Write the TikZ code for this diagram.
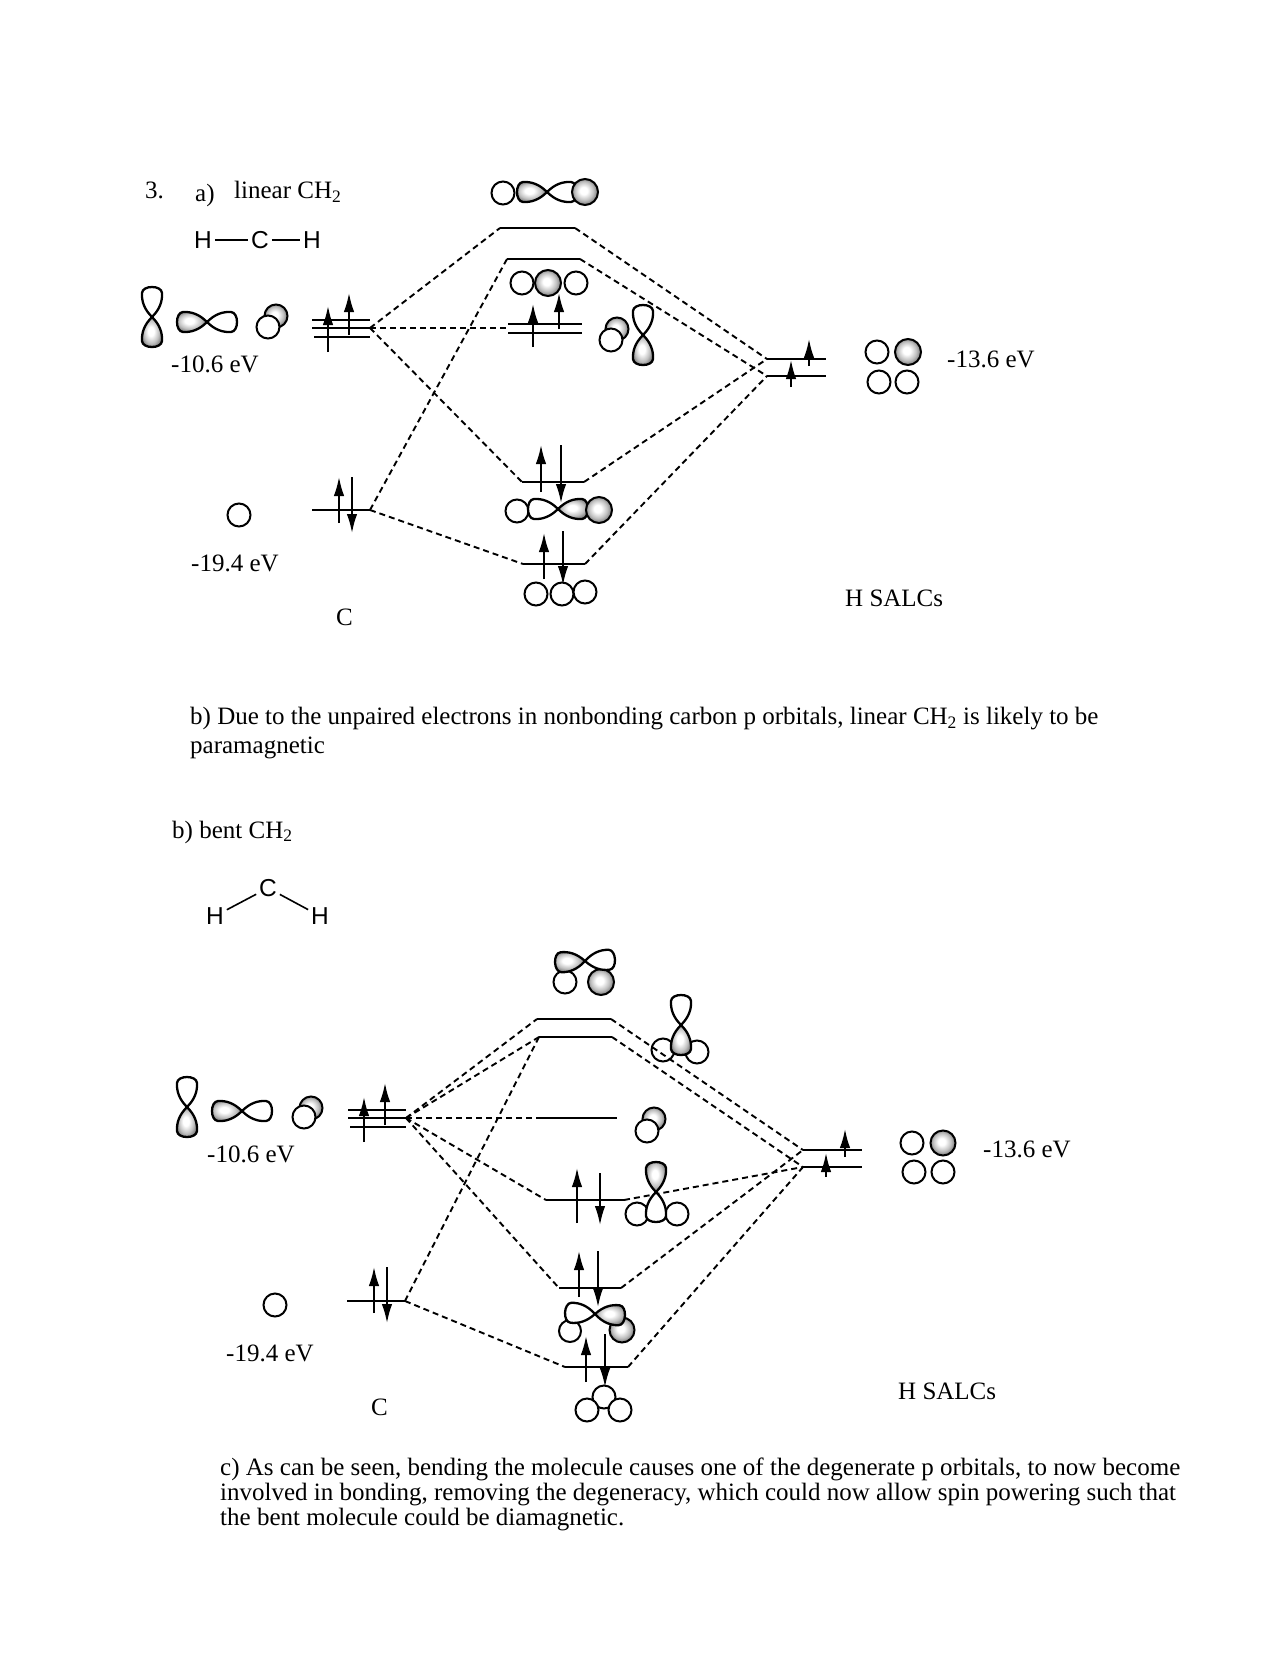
\documentclass[tikz,border=0pt]{standalone}
\usepackage{fontspec}
\setmainfont{Liberation Serif}
\newfontfamily\chemfont{Liberation Sans}
\usepackage{tikz}
\usetikzlibrary{arrows.meta}

\pgfdeclareradialshading{orbshade}{\pgfpoint{-3bp}{3bp}}{color(0bp)=(white); color(7bp)=(white); color(18bp)=(black!25); color(28bp)=(black!60); color(38bp)=(black!85); color(50bp)=(black)}

% one energy level: name, left x, right x, y
\newcommand{\level}[4]{
	\coordinate (#1l) at (#2,#4);
	\coordinate (#1r) at (#3,#4);
	\draw[levelline] (#1l) -- (#1r);
}
% one electron: name, x, tail y, tip y
\newcommand{\spin}[4]{
	\coordinate (#1t) at (#2,#3);
	\coordinate (#1h) at (#2,#4);
	\draw[->,spinline] (#1t) -- (#1h);
}

\tikzset{
	levelline/.style={line width=2.1pt},
	spinline/.style={line width=1.9pt},
	corr/.style={line width=1.9pt,dash pattern=on 6pt off 4pt},
	bond/.style={line width=1.6pt},
	txt/.style={anchor=base west,inner sep=0pt,font=\fontsize{25}{25}\selectfont},
	chem/.style={inner sep=0pt,outer sep=3pt,font=\chemfont\fontsize{24.5}{25}\selectfont},
	sorb/.style={draw,shape=circle,fill=white,line width=2pt,inner sep=0pt,minimum size=23pt},
	sorbf/.style={draw,shape=circle,line width=2pt,inner sep=0pt,minimum size=26pt,shade,shading=orbshade},
	lobes/.pic={
		\draw[line width=2.3pt,fill=white] (0,0) .. controls (-8,8) and (-16,10.5) .. (-24,10) .. controls (-32,9.5) and (-32,-9.5) .. (-24,-10) .. controls (-16,-10.5) and (-8,-8) .. (0,0);
		\draw[line width=2.3pt,shade,shading=orbshade] (0,0) .. controls (8,8) and (16,10.5) .. (24,10) .. controls (32,9.5) and (32,-9.5) .. (24,-10) .. controls (16,-10.5) and (8,-8) .. (0,0);
	}
}

\begin{document}
\begin{tikzpicture}[x=1pt,y=-1pt,>/.tip={Latex[length=19pt,width=10.5pt]}]
	\useasboundingbox (0,0) rectangle (1280,1656);

	\draw (145,198) node (num) [txt] {3.};
	\draw (195,201) node (parta) [txt] {a)};
	\draw (234,199) node (titlea) [txt] {linear CH\textsubscript{2}};
	\draw (203,240) node (ah1) [chem] {H};
	\draw (260,240) node (ac) [chem] {C};
	\draw (312,240) node (ah2) [chem] {H};
	\draw[bond] (ah1) -- (ac);
	\draw[bond] (ac) -- (ah2);

	% linear: carbon side
	\path (152,317) pic (ap1) [rotate=-90] {lobes};
	\path (207,322) pic (ap2) [rotate=180] {lobes};
	\draw (276,316) node (ap3f) [sorbf,minimum size=23pt] {};
	\draw (268,327) node (ap3) [sorb] {};
	\draw (171,372) node (ae1) [txt] {-10.6 eV};
	\level{acp1}{312}{370}{320}
	\level{acp2}{312}{370}{328}
	\level{acp3}{314}{370}{337}
	\spin{ae2}{328}{352}{306}
	\spin{ae3}{349}{335}{293}
	\draw (239,515) node (as) [sorb] {};
	\draw (191,571) node (ae4) [txt] {-19.4 eV};
	\level{acs}{312}{370}{510}
	\spin{ae5}{339}{523}{477}
	\spin{ae6}{352}{477}{533}
	\draw (336,625) node (ac2) [txt] {C};

	% linear: molecular levels
	\draw (503,193) node (at1) [sorb] {};
	\path (547,192) pic (at2) [rotate=180] {lobes};
	\draw (585,192) node (at3) [sorbf] {};
	\level{am1}{500}{575}{228}
	\level{am2}{507}{580}{259}
	\draw (522,283) node (an1) [sorb] {};
	\draw (548,283) node (an2) [sorbf] {};
	\draw (576,283) node (an3) [sorb] {};
	\level{am3}{508}{582}{324}
	\level{am4}{508}{582}{333}
	\coordinate (am34) at (508,328);
	\spin{ae7}{533}{347}{304}
	\spin{ae8}{559}{329}{293}
	\draw (617,329) node (ap4f) [sorbf,minimum size=23pt] {};
	\draw (611,340) node (ap4) [sorb] {};
	\path (643,335) pic (ap5) [rotate=-90] {lobes};
	\level{am5}{522}{584}{482}
	\draw (517,511) node (ab1) [sorb] {};
	\path (558,509) pic (ab2) {lobes};
	\draw (599,510) node (ab3) [sorbf] {};
	\spin{ae9}{541}{492}{445}
	\spin{ae10}{561}{445}{503}
	\level{am6}{523}{585}{564}
	\spin{ae11}{544}{579}{533}
	\spin{ae12}{563}{531}{585}
	\draw (536,594) node (aa1) [sorb] {};
	\draw (562,594) node (aa2) [sorb] {};
	\draw (585,592) node (aa3) [sorb] {};

	% linear: hydrogen side
	\level{ah3}{767}{826}{359}
	\level{ah4}{767}{826}{376}
	\spin{ae13}{809}{366}{339}
	\spin{ae14}{791}{387}{360}
	\draw (877,352) node (ag1) [sorb] {};
	\draw (908,352) node (ag2) [sorbf] {};
	\draw (879,382) node (ag3) [sorb] {};
	\draw (907,382) node (ag4) [sorb] {};
	\draw (947,367) node (ae15) [txt] {-13.6 eV};
	\draw (845,606) node (asalc) [txt] {H SALCs};

	\draw[corr] (acp2r) -- (am1l);
	\draw[corr] (acp2r) -- (am34);
	\draw[corr] (acp2r) -- (am5l);
	\draw[corr] (acsr) -- (am2l);
	\draw[corr] (acsr) -- (am6l);
	\draw[corr] (am1r) -- (ah3l);
	\draw[corr] (am2r) -- (ah4l);
	\draw[corr] (am5r) -- (ah3l);
	\draw[corr] (am6r) -- (ah4l);

	\draw (190,707) node (notea) [txt,anchor=north west,align=left,font=\fontsize{25}{28.5}\selectfont] {b) Due to the unpaired electrons in nonbonding carbon p orbitals, linear CH\textsubscript{2} is likely to be\\paramagnetic};
	\draw (172,838) node (titleb) [txt] {b) bent CH\textsubscript{2}};

	\draw (215,916) node (bh1) [chem] {H};
	\draw (268,888) node (bc) [chem] {C};
	\draw (320,916) node (bh2) [chem] {H};
	\draw[bond] (bh1) -- (bc);
	\draw[bond] (bc) -- (bh2);

	% bent: carbon side
	\path (187,1107) pic (bp1) [rotate=-90] {lobes};
	\path (242,1111) pic (bp2) [rotate=180] {lobes};
	\draw (311,1108) node (bp3f) [sorbf,minimum size=23pt] {};
	\draw (304,1117) node (bp3) [sorb] {};
	\draw (207,1162) node (be1) [txt] {-10.6 eV};
	\level{bcp1}{348}{406}{1110}
	\level{bcp2}{348}{406}{1118}
	\level{bcp3}{350}{406}{1127}
	\spin{be2}{364}{1142}{1097}
	\spin{be3}{385}{1125}{1083}
	\draw (275,1305) node (bs) [sorb] {};
	\draw (226,1361) node (be4) [txt] {-19.4 eV};
	\level{bcs}{347}{405}{1301}
	\spin{be5}{374}{1313}{1267}
	\spin{be6}{387}{1267}{1323}
	\draw (371,1415) node (bc2) [txt] {C};

	% bent: molecular levels
	\draw (565,982) node (bt1) [sorb] {};
	\draw (601,982) node (bt2) [sorbf] {};
	\path (585,961) pic (bt3) [rotate=183] {lobes};
	\level{bm1}{537}{611}{1019}
	\level{bm2}{539}{612}{1037}
	\draw (663,1050) node (bu1) [sorb] {};
	\draw (697,1052) node (bu2) [sorb] {};
	\path (681,1025) pic (bu3) [rotate=-90] {lobes};
	\level{bm3}{539}{617}{1118}
	\draw (654,1119) node (bq1f) [sorbf,minimum size=23pt] {};
	\draw (647,1131) node (bq1) [sorb] {};
	\level{bm4}{546}{624}{1200}
	\spin{be7}{577}{1223}{1168}
	\spin{be8}{600}{1173}{1225}
	\level{bm5}{559}{621}{1288}
	\spin{be9}{579}{1297}{1251}
	\spin{be10}{598}{1251}{1307}
	\draw (570,1331) node (bw1) [sorb,minimum size=22pt] {};
	\draw (622,1330) node (bw2) [sorbf,minimum size=25pt] {};
	\path (595,1314) pic (bw3) [rotate=-3] {lobes};
	\level{bm6}{565}{628}{1367}
	\spin{be11}{586}{1382}{1336}
	\spin{be12}{605}{1334}{1387}
	\draw (604,1397) node (bx1) [sorb] {};
	\draw (587,1410) node (bx2) [sorb] {};
	\draw (620,1410) node (bx3) [sorb] {};

	% bent: hydrogen side
	\level{bh3}{803}{862}{1150}
	\level{bh4}{803}{862}{1167}
	\spin{be13}{845}{1157}{1129}
	\spin{be14}{826}{1177}{1153}
	\draw (912,1143) node (bg1) [sorb] {};
	\draw (943,1143) node (bg2) [sorbf,minimum size=25pt] {};
	\draw (914,1172) node (bg3) [sorb] {};
	\draw (943,1172) node (bg4) [sorb] {};
	\draw (983,1157) node (be15) [txt] {-13.6 eV};
	\draw (898,1399) node (bsalc) [txt] {H SALCs};

	\draw[corr] (bcp2r) -- (bm1l);
	\draw[corr] (bcp2r) -- (bm2l);
	\draw[corr] (bcp2r) -- (bm3l);
	\draw[corr] (bcp2r) -- (bm4l);
	\draw[corr] (bcp2r) -- (bm5l);
	\draw[corr] (bcsr) -- (bm2l);
	\draw[corr] (bcsr) -- (bm6l);
	\draw[corr] (bm1r) -- (bh3l);
	\draw[corr] (bm2r) -- (bh4l);
	\draw[corr] (bm4r) -- (bh4l);
	\draw[corr] (bm5r) -- (bh3l);
	\draw[corr] (bm6r) -- (bh4l);

	% this one lies over its dashed line
	\draw (637,1214) node (bv1) [sorb] {};
	\draw (677,1214) node (bv2) [sorb] {};
	\path (656,1192) pic (bv3) [rotate=90] {lobes};

	\draw (220,1458) node (noteb) [txt,anchor=north west,align=left,font=\fontsize{25}{25}\selectfont] {c) As can be seen, bending the molecule causes one of the degenerate p orbitals, to now become\\involved in bonding, removing the degeneracy, which could now allow spin powering such that\\the bent molecule could be diamagnetic.};
\end{tikzpicture}
\end{document}
